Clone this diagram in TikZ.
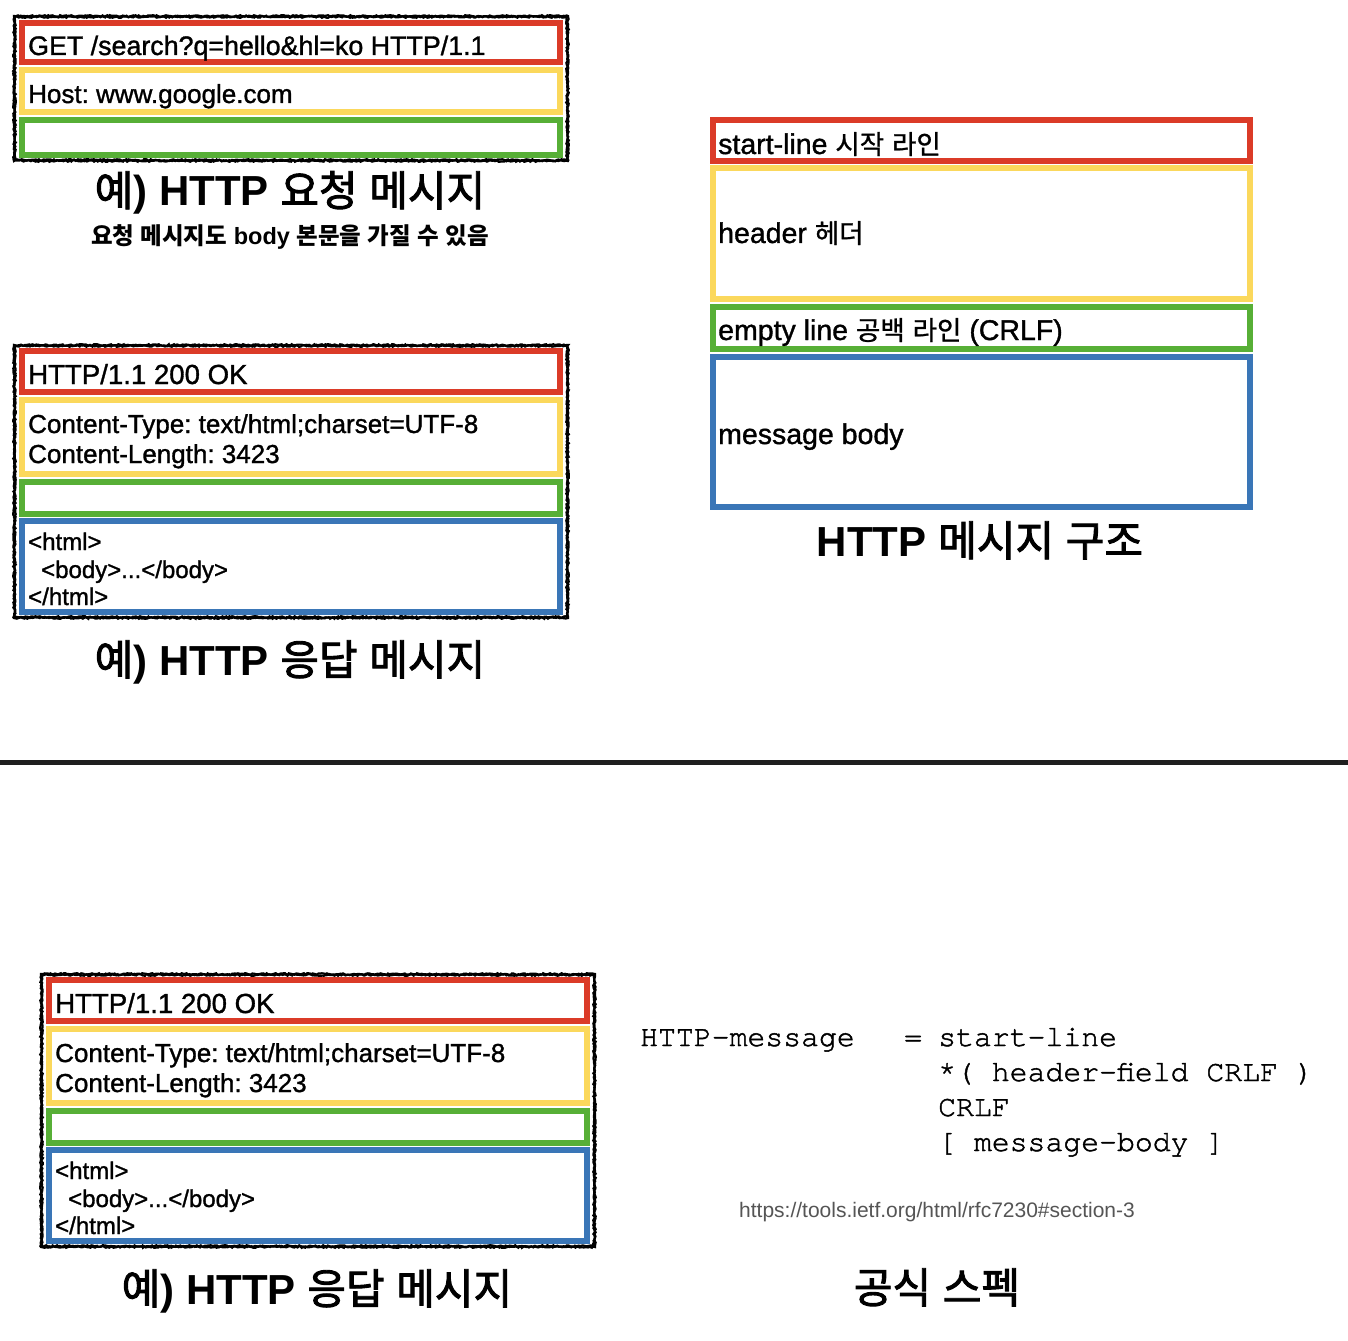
\documentclass[tikz,border=0pt]{standalone}
\usepackage{fontspec}
\setmainfont{Liberation Sans}
\newfontfamily\medfont[FakeBold=1.2]{Liberation Sans}
\newfontfamily\krfont{Noto Sans CJK KR}
\newfontfamily\krmed[FakeBold=1.0,Scale=0.93]{Noto Sans CJK KR}
\newfontfamily\krtitle[FakeBold=2.2]{Noto Sans CJK KR}
\newfontfamily\courfont[FakeBold=1.5]{texgyrecursor-regular.otf}
\usetikzlibrary{decorations.pathmorphing}
\definecolor{cred}{HTML}{DB3B28}
\definecolor{cyel}{HTML}{FBD85C}
\definecolor{cgrn}{HTML}{57AF36}
\definecolor{cblu}{HTML}{3A76B7}
\definecolor{curl}{HTML}{555555}
\newcommand\krreg{\krtitle\mdseries}
\newcommand\krbold{\krfont\bfseries}
\let\kfont\krfont
\newcommand\K[1]{{\kfont #1}}
\frenchspacing
\tikzset{
  redbox/.style={draw=cred, line width=6pt},
  yelbox/.style={draw=cyel, line width=6pt},
  grnbox/.style={draw=cgrn, line width=6pt},
  blubox/.style={draw=cblu, line width=6pt},
  roughbox/.style={draw=black, line width=2.2pt, decorate,
     decoration={random steps, segment length=1.6pt, amplitude=0.8pt}},
  txt/.style={anchor=base west, inner sep=0pt, font={\fontsize{26}{30}\medfont\let\kfont\krmed}},
  bigtxt/.style={anchor=base west, inner sep=0pt, font={\fontsize{27.6}{30}\medfont\let\kfont\krmed}},
  reqtxt/.style={anchor=base west, inner sep=0pt, font={\fontsize{26.8}{30}\medfont\let\kfont\krmed}},
  htxt/.style={anchor=base west, inner sep=0pt, font={\fontsize{24}{28}\medfont\let\kfont\krmed}},
  stxt/.style={anchor=base west, inner sep=0pt, font={\fontsize{28.5}{32}\medfont\let\kfont\krmed}},
  title/.style={anchor=base, inner sep=0pt, font={\fontsize{42}{48}\selectfont\bfseries\let\kfont\krreg}},
  subtitle/.style={anchor=base, inner sep=0pt, font={\fontsize{23.5}{27}\selectfont\bfseries\let\kfont\krbold}},
  mono/.style={anchor=base west, inner sep=0pt, font={\fontsize{29.8}{35}\courfont}},
  urltxt/.style={anchor=base, inner sep=0pt, text=curl, font={\fontsize{21}{25}\selectfont}},
}
\newcommand\RespBox[1]{%
  \draw[roughbox] (14,345) rectangle (568,618);
  \draw[roughbox] (15,346) rectangle (567,617);
  \draw[redbox] (22,351) rectangle (560,392);
  \draw[yelbox] (22,400) rectangle (560,474);
  \draw[grnbox] (22,482) rectangle (560,514);
  \draw[blubox] (22,521) rectangle (560,612);
  \node[bigtxt] (#1status) at (28,384) {HTTP/1.1 200 OK};
  \node[txt] (#1ctype) at (28,433) {Content-Type: text/html;charset=UTF-8};
  \node[txt] (#1clen) at (28,463) {Content-Length: 3423};
  \node[htxt] (#1h1) at (28,550) {<html>};
  \node[htxt] (#1h2) at (41,578) {<body>...</body>};
  \node[htxt] (#1h3) at (28,605) {</html>};
  \node[title] (#1title) at (290,675) {\K{예}) HTTP \K{응답} \K{메시지}};
}
\begin{document}
\begin{tikzpicture}[x=1pt,y=-1pt]
\pgfmathsetseed{7}
\useasboundingbox (0,0) rectangle (1348,1340);
\fill[white] (0,0) rectangle (1348,1340);

% request message
\draw[roughbox] (14,16) rectangle (568,161);
\draw[roughbox] (15,17) rectangle (567,160);
\draw[redbox] (22,23) rectangle (560,62);
\draw[yelbox] (22,70) rectangle (560,112);
\draw[grnbox] (22,120) rectangle (560,155);
\node[reqtxt] (reqline) at (28,55) {GET /search?q=hello\&hl=ko HTTP/1.1};
\node[txt] (reqhost) at (28,103) {Host: www.google.com};
\node[title] (reqtitle) at (290,206) {\K{예}) HTTP \K{요청} \K{메시지}};
\node[subtitle] (reqsub) at (290,244) {\K{요청} \K{메시지도} body \K{본문을} \K{가질} \K{수} \K{있음}};

% response message (top)
\RespBox{ra}

% structure
\draw[redbox] (713,120) rectangle (1250,161);
\draw[yelbox] (713,168) rectangle (1250,299);
\draw[grnbox] (713,307) rectangle (1250,349);
\draw[blubox] (713,357) rectangle (1250,507);
\node[stxt] (sstart) at (718,154) {start-line \K{시작} \K{라인}};
\node[stxt] (shead) at (718,243) {header \K{헤더}};
\node[stxt] (sempty) at (718,340) {empty line \K{공백} \K{라인} (CRLF)};
\node[stxt] (sbody) at (718,444) {message body};
\node[title] (stitle) at (980,556) {HTTP \K{메시지} \K{구조}};

% separator
\coordinate (sepL) at (0,762);
\coordinate (sepR) at (1348,762);
\draw[line width=5pt, color=black!88] (sepL) -- (sepR);

% response message (bottom)
\begin{scope}[shift={(27,629)}]
\RespBox{rb}
\end{scope}

% spec
\node[mono] (m1) at (640,1046) {HTTP-message};
\node[mono] (meq) at (904,1046) {=};
\node[mono] (m2) at (938,1046) {start-line};
\node[mono] (m3) at (938,1081) {*( header-field CRLF )};
\node[mono] (m4) at (938,1116) {CRLF};
\node[mono] (m5) at (938,1151) {[ message-body ]};
\node[urltxt] (url) at (937,1217) {https://tools.ietf.org/html/rfc7230\#section-3};
\node[title] (spectitle) at (937,1303) {\K{공식} \K{스펙}};
\end{tikzpicture}
\end{document}
